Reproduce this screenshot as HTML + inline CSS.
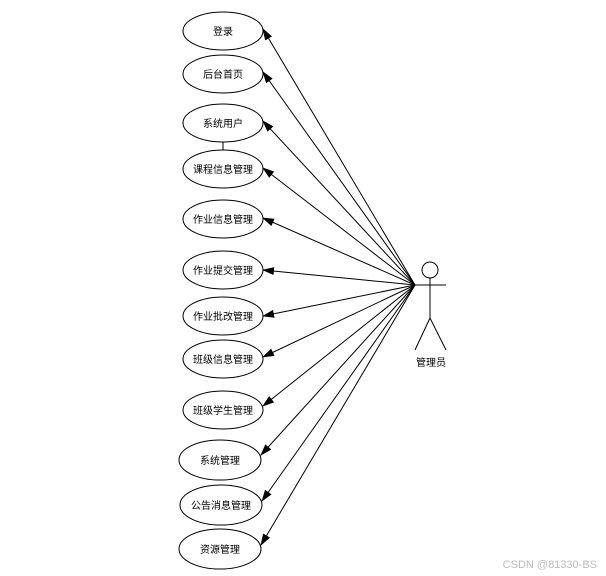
<!DOCTYPE html>
<html><head><meta charset="utf-8"><style>
html,body{margin:0;padding:0;background:#fff;}
svg{display:block;}
text{font-family:"Liberation Sans","Noto Sans CJK SC",sans-serif;font-size:10px;fill:#000;}
</style></head><body>
<svg width="606" height="576" viewBox="0 0 606 576" xmlns="http://www.w3.org/2000/svg">
<defs><marker id="a" markerWidth="12" markerHeight="8" refX="11" refY="4" orient="auto" markerUnits="userSpaceOnUse"><path d="M0,0 L12,4 L0,8 Z" fill="#000"/></marker></defs>
<g fill="#fff" stroke="#000" stroke-width="1">
<ellipse cx="223" cy="31" rx="40" ry="19"/>
<ellipse cx="223" cy="74" rx="40" ry="19"/>
<ellipse cx="223" cy="123" rx="40" ry="19"/>
<line x1="223" y1="142" x2="223" y2="150"/>
<ellipse cx="223" cy="169" rx="40" ry="19"/>
<ellipse cx="223" cy="219" rx="40" ry="19"/>
<ellipse cx="223" cy="270" rx="40" ry="19"/>
<ellipse cx="223" cy="316" rx="40" ry="19"/>
<ellipse cx="223" cy="359" rx="40" ry="19"/>
<ellipse cx="223" cy="410" rx="40" ry="19"/>
<ellipse cx="220" cy="460" rx="41" ry="20"/>
<ellipse cx="221" cy="505" rx="41" ry="20"/>
<ellipse cx="220" cy="549" rx="41" ry="20"/>
</g>
<g stroke="#000" stroke-width="1" marker-end="url(#a)">
<line x1="415" y1="285" x2="263" y2="29"/>
<line x1="415" y1="285" x2="263" y2="72"/>
<line x1="415" y1="285" x2="263" y2="121"/>
<line x1="415" y1="285" x2="263" y2="168"/>
<line x1="415" y1="285" x2="263" y2="218"/>
<line x1="415" y1="285" x2="263" y2="270"/>
<line x1="415" y1="285" x2="263" y2="316"/>
<line x1="415" y1="285" x2="263" y2="357"/>
<line x1="415" y1="285" x2="263" y2="406"/>
<line x1="415" y1="285" x2="261" y2="455"/>
<line x1="415" y1="285" x2="262" y2="501"/>
<line x1="415" y1="285" x2="261" y2="545"/>
</g>
<g stroke="#000" stroke-width="1" fill="none">
<circle cx="430" cy="270" r="8"/>
<line x1="430" y1="278" x2="430" y2="318"/>
<line x1="415" y1="285" x2="446" y2="285"/>
<line x1="430" y1="318" x2="415" y2="350"/>
<line x1="430" y1="318" x2="446" y2="350"/>
</g>
<g text-anchor="middle">
<text x="223" y="35">登录</text>
<text x="223" y="78">后台首页</text>
<text x="223" y="127">系统用户</text>
<text x="223" y="173">课程信息管理</text>
<text x="223" y="223">作业信息管理</text>
<text x="223" y="274">作业提交管理</text>
<text x="223" y="320">作业批改管理</text>
<text x="223" y="363">班级信息管理</text>
<text x="223" y="414">班级学生管理</text>
<text x="220" y="464">系统管理</text>
<text x="221" y="509">公告消息管理</text>
<text x="220" y="553">资源管理</text>
<text x="431" y="366">管理员</text>
</g>
<text x="597" y="568" text-anchor="end" style="fill:#bbb;font-size:11px">CSDN @81330-BS</text>
</svg>
</body></html>
